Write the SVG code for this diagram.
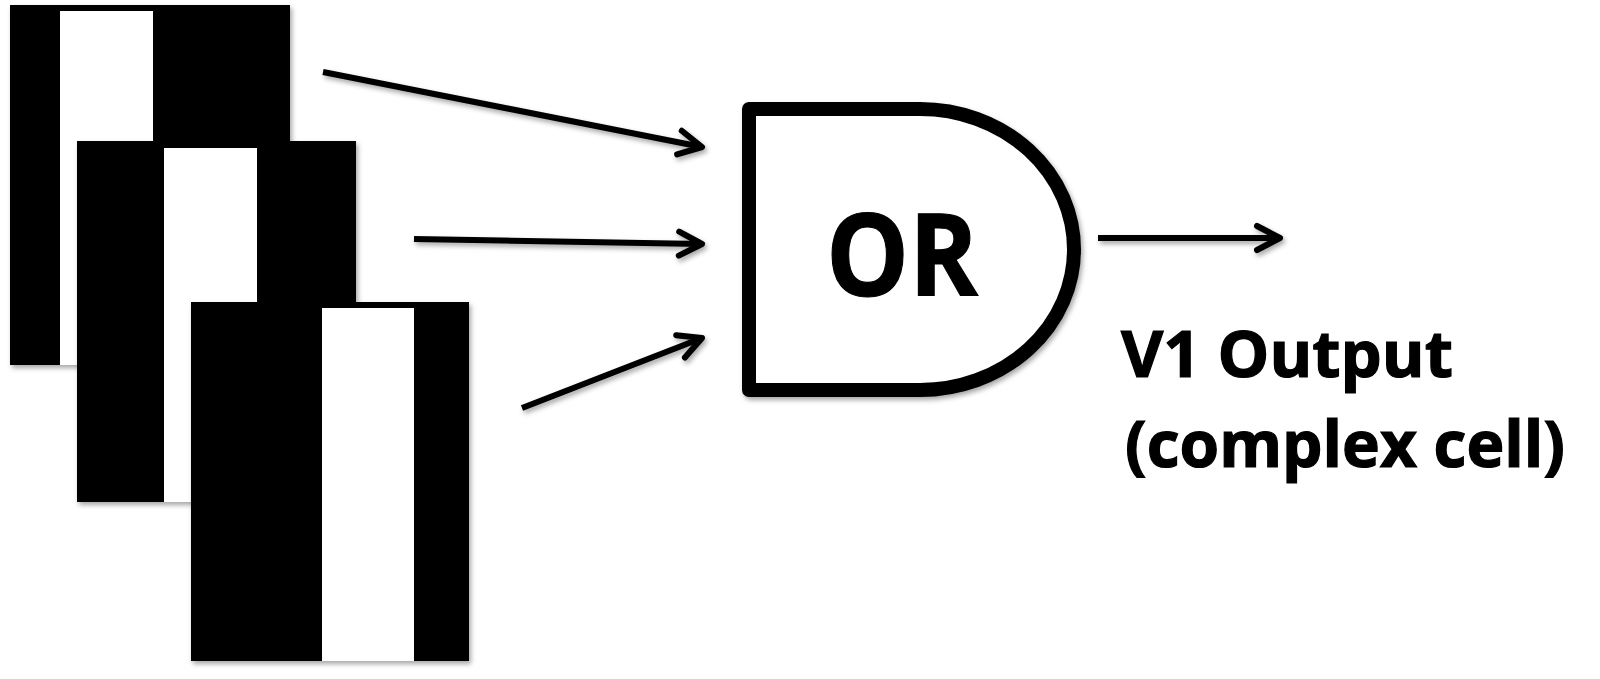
<svg xmlns="http://www.w3.org/2000/svg" width="1600" height="679" viewBox="0 0 1600 679">
<defs>
<filter id="sh" x="-10%" y="-10%" width="130%" height="130%">
<feDropShadow dx="2" dy="3" stdDeviation="2.5" flood-color="#000" flood-opacity="0.35"/>
</filter>
<marker id="arr" markerUnits="userSpaceOnUse" viewBox="-30 -20 40 40" markerWidth="40" markerHeight="40" refX="0" refY="0" orient="auto">
<path d="M-23,-12 L0,0 L-23,12" fill="none" stroke="#000" stroke-width="6" stroke-linecap="round" stroke-linejoin="round"/>
</marker>
<style>
.blk{fill:#000}
.wht{fill:#fff}
.conn{stroke:#000;stroke-width:6;fill:none;stroke-linecap:butt;marker-end:url(#arr)}
.gate{fill:#fff;stroke:#000;stroke-width:14;stroke-linejoin:round}
.lbl{font-family:"Open Sans","Liberation Sans",sans-serif;font-weight:bold;fill:#000;stroke:#000;stroke-width:1.2}
</style>
</defs>
<rect width="1600" height="679" fill="#fff"/>
<g id="grating1" filter="url(#sh)">
<rect class="blk" x="10" y="5" width="280" height="360"/>
<rect class="wht" x="60" y="11" width="93" height="354"/>
</g>
<g id="grating2" filter="url(#sh)">
<rect class="blk" x="77" y="141" width="279" height="361"/>
<rect class="wht" x="164" y="148" width="93" height="354"/>
</g>
<g id="grating3" filter="url(#sh)">
<rect class="blk" x="191" y="302" width="278" height="359"/>
<rect class="wht" x="322" y="308" width="92" height="353"/>
</g>
<g id="connectors" filter="url(#sh)">
<line class="conn" x1="323" y1="72" x2="702" y2="147"/>
<line class="conn" x1="414" y1="239" x2="702" y2="244"/>
<line class="conn" x1="522" y1="408" x2="702" y2="338"/>
<line class="conn" x1="1098" y1="238" x2="1280" y2="238"/>
</g>
<g id="or-gate">
<path class="gate" filter="url(#sh)" d="M749,109 H920 A154,140.5 0 0 1 920,390 H749 Z"/>
<text class="lbl" x="826" y="296" font-size="114" textLength="152" lengthAdjust="spacingAndGlyphs" stroke-width="2">OR</text>
</g>
<g id="output-label">
<text class="lbl" x="1121" y="377" font-size="64" textLength="332" lengthAdjust="spacingAndGlyphs">V1 Output</text>
<text class="lbl" x="1125" y="467" font-size="64" textLength="440" lengthAdjust="spacingAndGlyphs">(complex cell)</text>
</g>
</svg>
